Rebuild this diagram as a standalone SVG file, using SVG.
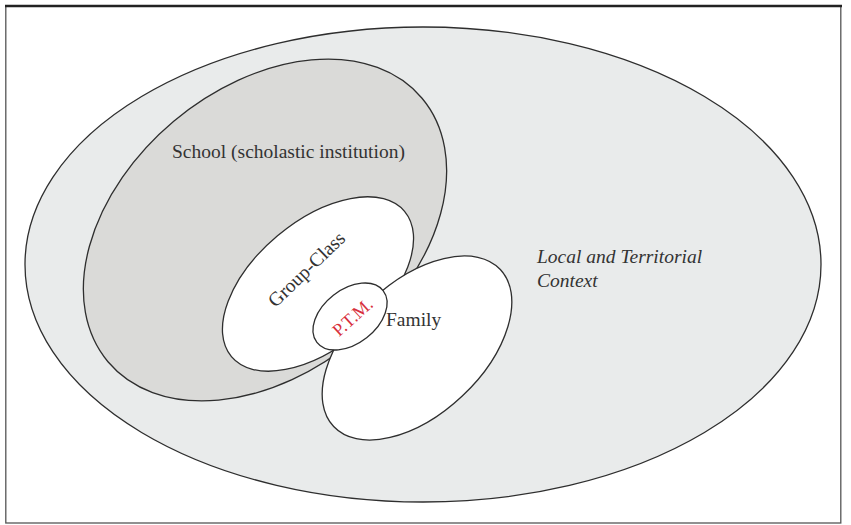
<svg xmlns="http://www.w3.org/2000/svg" width="851" height="525" viewBox="0 0 851 525">
<style>
.ln{stroke:#2e2e2e;stroke-width:1.3}
.t{font-family:"Liberation Serif","Times New Roman",serif;font-size:19.5px;fill:#333}
.it{font-style:italic}
.red{fill:#d8303c;font-size:18px}
</style>
<rect x="0" y="0" width="851" height="525" fill="#ffffff"/>
<g id="frame">
<rect x="5.8" y="6" width="835" height="517" fill="none" stroke="#555" stroke-width="1.3"/>
<line x1="5" y1="6" x2="842" y2="6" stroke="#222" stroke-width="2.4"/>
</g>
<g id="context">
<ellipse cx="423" cy="264.5" rx="398" ry="237.5" fill="#e9ebeb" class="ln"/>
<text class="t it" x="537" y="263">Local and Territorial</text>
<text class="t it" x="537" y="287">Context</text>
</g>
<g id="school">
<ellipse cx="265" cy="230" rx="205" ry="142" transform="rotate(-40 265 230)" fill="#dadad8" class="ln"/>
<text class="t" x="172" y="158">School (scholastic institution)</text>
</g>
<g id="group-class">
<ellipse cx="318" cy="284" rx="113" ry="63" transform="rotate(-40 318 284)" fill="#ffffff" class="ln"/>
<text class="t" text-anchor="middle" transform="translate(311 274) rotate(-44)">Group-Class</text>
</g>
<g id="family">
<ellipse cx="417" cy="348" rx="114.5" ry="66" transform="rotate(-43.3 417 348)" fill="#ffffff" class="ln"/>
<text class="t" x="386" y="326">Family</text>
</g>
<g id="ptm">
<ellipse cx="350" cy="316.5" rx="42" ry="27" transform="rotate(-38 350 316.5)" fill="#ffffff" class="ln"/>
<text class="t red" text-anchor="middle" transform="translate(356.5 321.5) rotate(-42)">P.T.M.</text>
</g>
<g id="connectors"/>
</svg>
